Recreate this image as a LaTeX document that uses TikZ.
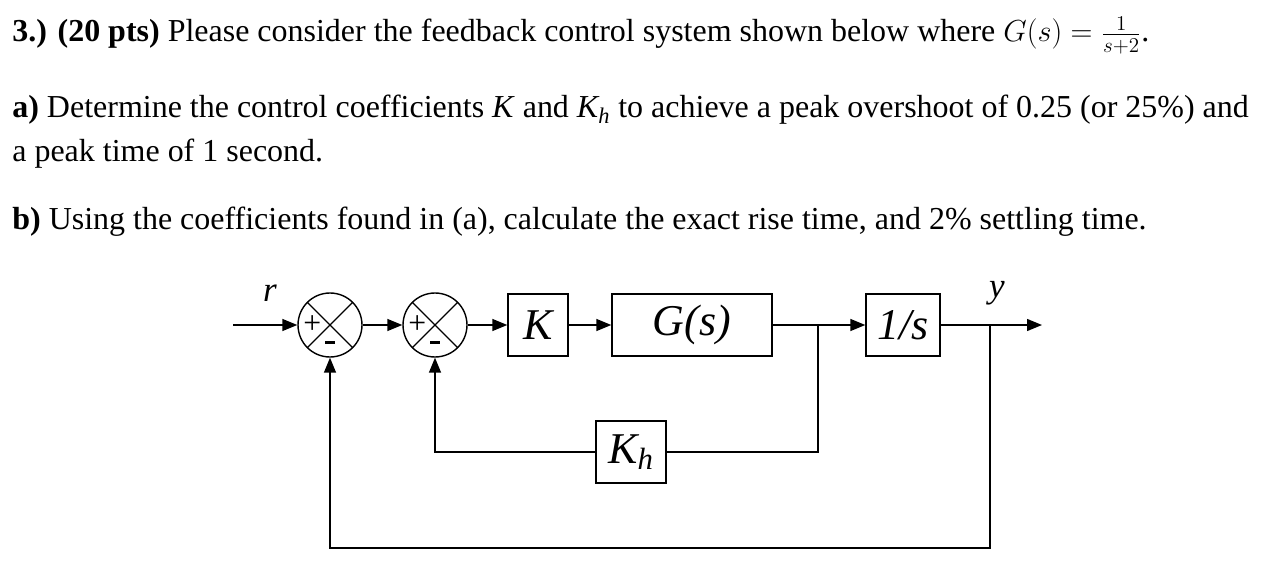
\documentclass[tikz,border=0pt]{standalone}
\usepackage{fontspec}
\setmainfont{Liberation Serif}
\usetikzlibrary{positioning,arrows.meta}
\begin{document}
\begin{tikzpicture}[x=0.02cm,y=-0.02cm,
sumnode/.style={circle, draw, thick, minimum size=1.28cm, inner sep=0pt},
blocknode/.style={rectangle, draw, thick, minimum height=1.24cm, font=\fontsize{25}{28}\selectfont\itshape},
txt/.style={anchor=base west, inner sep=0pt, font=\fontsize{18.2}{22}\selectfont},
sig/.style={->, thick, >={Triangle[length=3mm,width=2.4mm]}},
]
\useasboundingbox (0,0) rectangle (1278,574);
%Texts
\node[txt] (q)  at (12,42)  {\textbf{3.) (20 pts)} Please consider the feedback control system shown below where $G(s)=\frac{1}{s+2}$.};
\node[txt] (qa) at (12,118) {\textbf{a)} Determine the control coefficients \textit{K} and \textit{K\textsubscript{h}} to achieve a peak overshoot of 0.25 (or 25\%) and};
\node[txt] (qa2) at (12,162) {a peak time of 1 second.};
\node[txt] (qb) at (12,230) {\textbf{b)} Using the coefficients found in (a), calculate the exact rise time, and 2\% settling time.};
%Nodes
\coordinate (in) at (233,325);
\node[sumnode] (sum1) at (330,325) {};
\node[sumnode] (sum2) at (435,325) {};
\node[blocknode, minimum width=1.2cm] (K) at (538,325) {K};
\node[blocknode, minimum width=3.2cm] (G) at (692,325) {G(s)};
\node[blocknode, minimum width=1.48cm] (integ) at (903,325) {1/s};
\node[blocknode, minimum width=1.4cm] (Kh) at (631,452) {K\textsubscript{h}};
\coordinate (br1) at (818,325);
\coordinate (br2) at (990,325);
\coordinate (out) at (1042,325);
\node[font=\fontsize{20}{24}\selectfont\itshape] (r) at (270,293) {r};
\node[font=\fontsize{20}{24}\selectfont\itshape] (y) at (997,293) {y};
%Summer marks
\foreach \s in {sum1,sum2}{
  \draw[thick] (\s.45) -- (\s.225) (\s.135) -- (\s.315);
  \node[font=\fontsize{18}{20}\selectfont] at ([xshift=0.3cm]\s.west) {+};
  \draw[line width=1.6pt] ([xshift=-0.1cm,yshift=0.3cm]\s.south) -- ++(0.2cm,0);
}
%Lines
\draw[sig] (in) -- (sum1.west);
\draw[sig] (sum1.east) -- (sum2.west);
\draw[sig] (sum2.east) -- (K.west);
\draw[sig] (K.east) -- (G.west);
\draw[sig] (G.east) -- (br1) -- (integ.west);
\draw[sig] (integ.east) -- (br2) -- (out);
\draw[thick] (br1) |- (Kh.east);
\draw[sig] (Kh.west) -| (sum2.south);
\draw[sig] (br2) |- (330,548) -- (sum1.south);
\end{tikzpicture}
\end{document}
